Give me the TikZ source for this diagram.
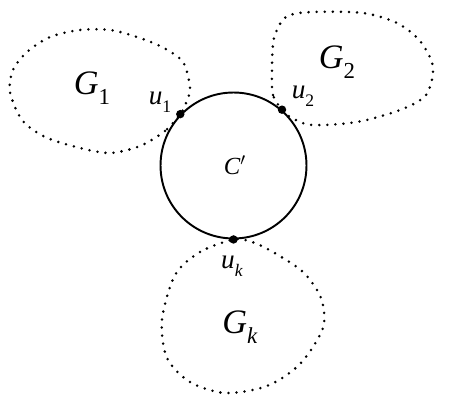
\documentclass[tikz,border=0pt]{standalone}
\usepackage{fontspec}
\setmainfont{Liberation Serif}
\usetikzlibrary{calc}
\newcommand{\glab}[2]{\fontsize{19.5}{21}\selectfont\textit{#1}\raisebox{-0.3em}{\fontsize{13}{14}\selectfont #2}}
\newcommand{\ulab}[2]{\fontsize{15.5}{17}\selectfont\textit{#1}\raisebox{-0.3em}{\fontsize{10}{11}\selectfont #2}}
\tikzset{
   blob/.style={line width=1.6pt, dash pattern=on 0pt off 4.6pt, line cap=round},
   cyc/.style={circle, draw, line width=1.1pt, minimum size=2.92cm, inner sep=0pt},
   vertex/.style={circle, fill=black, inner sep=0pt, minimum size=4.8pt}
}
\begin{document}
\begin{tikzpicture}[x=0.02cm,y=-0.02cm]
\useasboundingbox (0,0) rectangle (463,408);

% the cycle and its cut vertices
\node[cyc] (c) at (233.5,165.5) {};
\node (cname) at (235,165) {\fontsize{14}{15}\selectfont\textit{C}$'$};
\node[vertex] (u1) at (c.136) {};
\node[vertex] (u2) at (c.49) {};
\node[vertex] (uk) at (c.south) {};

\node (u1lab) at (160,102) {\ulab{u}{1}};
\node (u2lab) at (303,96) {\ulab{u}{2}};
\node (uklab) at (232,266) {\ulab{u}{\textit{k}}};

% the pieces hanging off the cycle
\draw[blob] plot[smooth cycle] coordinates {
  (u1) (165,131) (140,146) (110,153) (80,148) (45,137) (22,120) (10,92)
  (13,70) (27,52) (50,37) (80,30) (110,30) (137,37) (162,47)
  (183,62) (190,88) (186,103)};
\draw[blob] plot[smooth cycle] coordinates {
  (u2) (273,95) (272,70) (274,38) (286,17) (312,12) (363,13)
  (397,23) (420,41) (433,67) (426,95) (400,110) (357,122)
  (312,125) (292,118)};
\draw[blob] plot[smooth cycle] coordinates {
  (uk) (200,252) (175,275) (162,320) (167,358) (190,382)
  (225,393) (267,386) (300,364) (323,328) (321,298) (303,272)
  (273,252) (252,242)};

\node (g1) at (92,88) {\glab{G}{1}};
\node (g2) at (337,62) {\glab{G}{2}};
\node (gk) at (240,327) {\glab{G}{\textit{k}}};

\end{tikzpicture}
\end{document}
